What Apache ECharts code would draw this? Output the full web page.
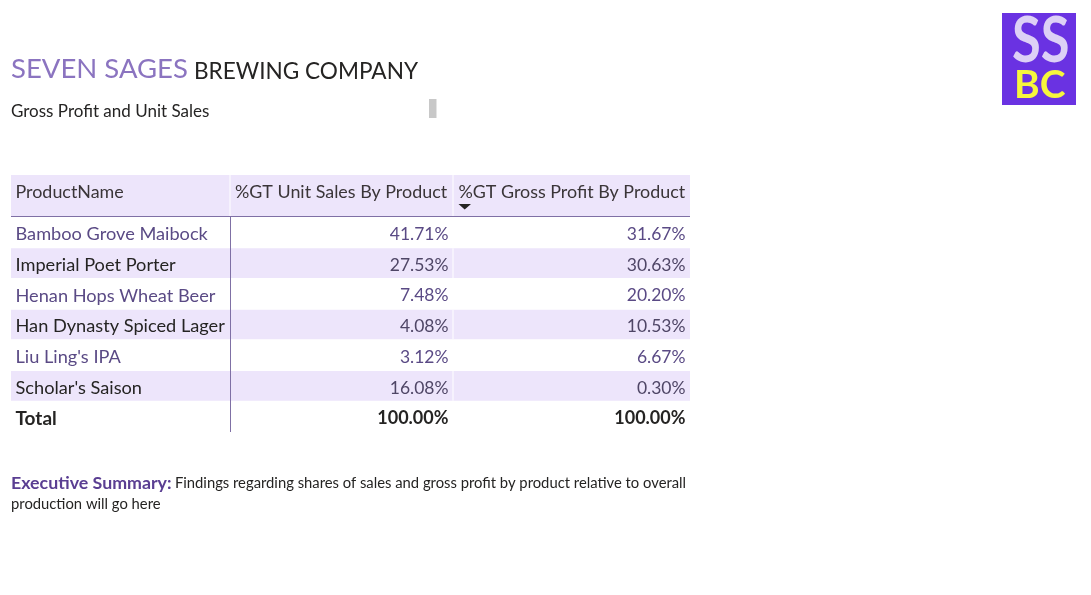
<!DOCTYPE html>
<html>
<head>
<meta charset="utf-8">
<style>
  html, body { margin: 0; padding: 0; background: #fff; }
  #main { width: 1091px; height: 595px; }
</style>
<script src="https://cdn.jsdelivr.net/npm/echarts@6/dist/echarts.min.js"></script>
</head>
<body>
<div id="main"></div>
<script>
const columns = ['ProductName', '%GT Unit Sales By Product', '%GT Gross Profit By Product']
const products = ['Bamboo Grove Maibock', 'Imperial Poet Porter', 'Henan Hops Wheat Beer', 'Han Dynasty Spiced Lager', "Liu Ling's IPA", "Scholar's Saison", 'Total']
const unitSales = [41.71, 27.53, 7.48, 4.08, 3.12, 16.08, 100]
const grossProfit = [31.67, 30.63, 20.2, 10.53, 6.67, 0.3, 100]

const FONT = 'Lato'
const PURPLE = '#EDE5FB'
const RULE = '#7F70A5'
// column edges, same unit as the hidden x axis (px from the table's left edge)
const edges = [0, 219, 442, 679]
const PAD = 4.5

function cellText(x, y, text, align, style) {
  return {
    type: 'text',
    style: Object.assign({ x, y, text, align, verticalAlign: 'middle', fontFamily: FONT }, style),
  }
}

function renderHeader(params, api) {
  const h = api.size([0, 1])[1]
  const top = api.coord([0, 0])[1] - h / 2
  const x = edges.map((e) => api.coord([e, 0])[0])
  const y = top + 17
  const style = { fontSize: 17.9, fill: '#3a3538' }
  return {
    type: 'group',
    children: [
      { type: 'rect', shape: { x: x[0], y: top, width: x[3] - x[0], height: h }, style: { fill: PURPLE } },
      { type: 'rect', shape: { x: x[1] - 0.5, y: top, width: 1, height: h }, style: { fill: '#fff' } },
      { type: 'rect', shape: { x: x[2] - 0.5, y: top, width: 1, height: h }, style: { fill: '#fff' } },
      cellText(x[0] + PAD, y, columns[0], 'left', style),
      cellText(x[1] + PAD + 0.5, y, columns[1], 'left', style),
      cellText(x[2] + PAD + 1, y, columns[2], 'left', style),
      // sort arrow
      { type: 'polygon', shape: { points: [[x[2] + 5.5, top + 29], [x[2] + 18, top + 29], [x[2] + 11.7, top + 34.5]] }, style: { fill: '#252423' } },
    ],
  }
}

function renderRow(params, api) {
  const i = api.value(0)
  const h = api.size([0, 1])[1]
  const cy = api.coord([0, i])[1]
  const x = edges.map((e) => api.coord([e, i])[0])
  const isTotal = i === products.length - 1
  const band = i % 2 === 1
  const children = []
  if (band) {
    children.push({ type: 'rect', shape: { x: x[0], y: cy - h / 2 + 0.5, width: x[3] - x[0], height: h - 1 }, style: { fill: PURPLE } })
    children.push({ type: 'rect', shape: { x: x[2] - 0.5, y: cy - h / 2 + 0.5, width: 1, height: h - 1 }, style: { fill: '#fff' } })
  }
  const nameColor = isTotal || band ? '#252423' : '#5A4A85'
  const numColor = isTotal ? '#252423' : band ? '#4F4666' : '#5A4A85'
  const weight = isTotal ? 'bold' : 'normal'
  const y = cy + 2
  const numSize = isTotal ? 18 : 17.5
  children.push(cellText(x[0] + PAD, y, products[i], 'left', { fontSize: isTotal ? 19 : 18.2, fill: nameColor, fontWeight: weight }))
  children.push(cellText(x[2] - PAD, y, unitSales[i].toFixed(2) + '%', 'right', { fontSize: numSize, fill: numColor, fontWeight: weight }))
  children.push(cellText(x[3] - PAD, y, grossProfit[i].toFixed(2) + '%', 'right', { fontSize: numSize, fill: numColor, fontWeight: weight }))
  return { type: 'group', children }
}

const chart = echarts.init(document.getElementById('main'), null, { renderer: 'canvas' })
chart.setOption({
  animation: false,
  backgroundColor: '#fff',
  grid: [
    { left: 11, top: 175, width: 679, height: 41 },
    { left: 11, top: 217, width: 679, height: 215 },
  ],
  xAxis: [
    { gridIndex: 0, type: 'value', min: 0, max: 679, show: false },
    { gridIndex: 1, type: 'value', min: 0, max: 679, show: false },
  ],
  yAxis: [
    { gridIndex: 0, type: 'category', data: ['header'], show: false },
    { gridIndex: 1, type: 'category', data: products, inverse: true, show: false },
  ],
  series: [
    { type: 'custom', xAxisIndex: 0, yAxisIndex: 0, renderItem: renderHeader, data: [[0, 0]], silent: true, clip: false },
    {
      type: 'custom',
      xAxisIndex: 1,
      yAxisIndex: 1,
      renderItem: renderRow,
      encode: { y: 0 },
      data: products.map((p, i) => [i]),
      silent: true,
      clip: false,
    },
  ],
  graphic: [
    { type: 'text', z: 10, left: 11, top: 55, style: { text: 'SEVEN SAGES', font: '27.5px ' + FONT, fill: '#8B74C0' } },
    { type: 'text', z: 10, left: 194, top: 60, style: { text: 'BREWING COMPANY', font: '22.6px ' + FONT, fill: '#252423' } },
    { type: 'text', z: 10, left: 11, top: 103, style: { text: 'Gross Profit and Unit Sales', font: '17px ' + FONT, fill: '#252423' } },
    { type: 'rect', z: 10, left: 429, top: 99, shape: { width: 7.5, height: 19 }, style: { fill: '#C8C8C8' } },
    // header rule and first-column rule, above the row bands
    { type: 'rect', z: 10, left: 11, top: 216, shape: { width: 679, height: 1 }, style: { fill: RULE } },
    { type: 'rect', z: 10, left: 230, top: 216, shape: { width: 1, height: 216 }, style: { fill: RULE } },
    // logo
    { type: 'rect', z: 10, left: 1002, top: 13, shape: { width: 74, height: 92 }, style: { fill: '#6A32E2' } },
    { type: 'text', z: 11, x: 1012, y: 9, scaleX: 0.82, style: { text: 'SS', font: 'bold 64px ' + FONT, fill: '#DDD0F6' } },
    { type: 'text', z: 11, left: 1014, top: 66, style: { text: 'BC', font: 'bold 39px ' + FONT, fill: '#F6F63C' } },
    // summary
    {
      type: 'text',
      z: 10,
      left: 11,
      top: 473,
      style: {
        text: '{b|Executive Summary:} {n|Findings regarding shares of sales and gross profit by product relative to overall}\n{n|production will go here}',
        lineHeight: 21,
        rich: {
          b: { font: 'bold 17.8px ' + FONT, fill: '#5A3E92', lineHeight: 21 },
          n: { font: '14.8px ' + FONT, fill: '#252423', lineHeight: 21 },
        },
      },
    },
  ],
})
</script>
</body>
</html>
